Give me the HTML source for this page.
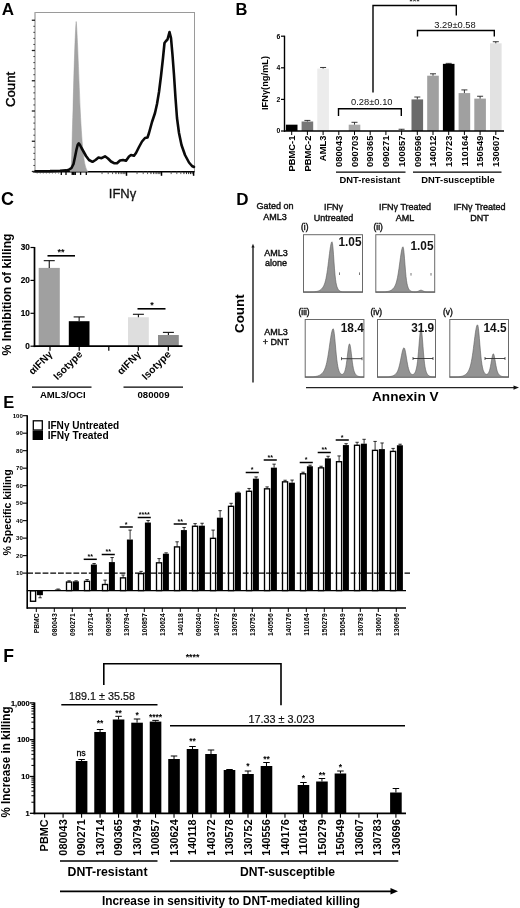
<!DOCTYPE html>
<html lang="en"><head><meta charset="utf-8"><title>Figure</title>
<style>html,body{margin:0;padding:0;background:#fff}svg{display:block}text{font-family:"Liberation Sans",sans-serif}</style>
</head><body>
<svg width="520" height="908" viewBox="0 0 520 908">
<rect width="520" height="908" fill="#fff"/>
<text x="1.70" y="14.80" font-size="17" text-anchor="start" fill="#000" font-weight="700" >A</text>
<rect x="35" y="12.5" width="159.5" height="159.0" fill="none" stroke="#9a9a9a" stroke-width="1"/>
<line x1="35.00" y1="12.50" x2="35.00" y2="171.50" stroke="#b5b5b5" stroke-width="1" />
<line x1="33.00" y1="171.70" x2="194.50" y2="171.70" stroke="#000" stroke-width="1.6" />
<line x1="31.80" y1="171.50" x2="35.00" y2="171.50" stroke="#222" stroke-width="1.3" />
<line x1="33.30" y1="165.45" x2="35.00" y2="165.45" stroke="#222" stroke-width="0.8" />
<line x1="33.30" y1="159.40" x2="35.00" y2="159.40" stroke="#222" stroke-width="0.8" />
<line x1="33.30" y1="153.35" x2="35.00" y2="153.35" stroke="#222" stroke-width="0.8" />
<line x1="33.30" y1="147.30" x2="35.00" y2="147.30" stroke="#222" stroke-width="0.8" />
<line x1="31.80" y1="141.25" x2="35.00" y2="141.25" stroke="#222" stroke-width="1.3" />
<line x1="33.30" y1="135.20" x2="35.00" y2="135.20" stroke="#222" stroke-width="0.8" />
<line x1="33.30" y1="129.15" x2="35.00" y2="129.15" stroke="#222" stroke-width="0.8" />
<line x1="33.30" y1="123.10" x2="35.00" y2="123.10" stroke="#222" stroke-width="0.8" />
<line x1="33.30" y1="117.05" x2="35.00" y2="117.05" stroke="#222" stroke-width="0.8" />
<line x1="31.80" y1="111.00" x2="35.00" y2="111.00" stroke="#222" stroke-width="1.3" />
<line x1="33.30" y1="104.95" x2="35.00" y2="104.95" stroke="#222" stroke-width="0.8" />
<line x1="33.30" y1="98.90" x2="35.00" y2="98.90" stroke="#222" stroke-width="0.8" />
<line x1="33.30" y1="92.85" x2="35.00" y2="92.85" stroke="#222" stroke-width="0.8" />
<line x1="33.30" y1="86.80" x2="35.00" y2="86.80" stroke="#222" stroke-width="0.8" />
<line x1="31.80" y1="80.75" x2="35.00" y2="80.75" stroke="#222" stroke-width="1.3" />
<line x1="33.30" y1="74.70" x2="35.00" y2="74.70" stroke="#222" stroke-width="0.8" />
<line x1="33.30" y1="68.65" x2="35.00" y2="68.65" stroke="#222" stroke-width="0.8" />
<line x1="33.30" y1="62.60" x2="35.00" y2="62.60" stroke="#222" stroke-width="0.8" />
<line x1="33.30" y1="56.55" x2="35.00" y2="56.55" stroke="#222" stroke-width="0.8" />
<line x1="31.80" y1="50.50" x2="35.00" y2="50.50" stroke="#222" stroke-width="1.3" />
<line x1="33.30" y1="44.45" x2="35.00" y2="44.45" stroke="#222" stroke-width="0.8" />
<line x1="33.30" y1="38.40" x2="35.00" y2="38.40" stroke="#222" stroke-width="0.8" />
<line x1="33.30" y1="32.35" x2="35.00" y2="32.35" stroke="#222" stroke-width="0.8" />
<line x1="33.30" y1="26.30" x2="35.00" y2="26.30" stroke="#222" stroke-width="0.8" />
<line x1="31.80" y1="20.25" x2="35.00" y2="20.25" stroke="#222" stroke-width="1.3" />
<line x1="37.20" y1="171.50" x2="37.20" y2="173.70" stroke="#666" stroke-width="0.7" />
<line x1="40.25" y1="171.50" x2="40.25" y2="173.70" stroke="#666" stroke-width="0.7" />
<line x1="43.30" y1="171.50" x2="43.30" y2="173.70" stroke="#666" stroke-width="0.7" />
<line x1="46.35" y1="171.50" x2="46.35" y2="173.70" stroke="#666" stroke-width="0.7" />
<line x1="49.40" y1="171.50" x2="49.40" y2="173.70" stroke="#666" stroke-width="0.7" />
<line x1="52.45" y1="171.50" x2="52.45" y2="173.70" stroke="#666" stroke-width="0.7" />
<line x1="55.50" y1="171.50" x2="55.50" y2="173.70" stroke="#666" stroke-width="0.7" />
<line x1="58.55" y1="171.50" x2="58.55" y2="173.70" stroke="#666" stroke-width="0.7" />
<line x1="61.30" y1="171.50" x2="61.30" y2="174.90" stroke="#000" stroke-width="1.3" />
<line x1="66.00" y1="171.50" x2="66.00" y2="174.90" stroke="#000" stroke-width="1.3" />
<line x1="72.30" y1="171.50" x2="72.30" y2="174.90" stroke="#000" stroke-width="1.5" />
<line x1="73.80" y1="171.50" x2="73.80" y2="174.90" stroke="#000" stroke-width="1.5" />
<line x1="75.20" y1="171.50" x2="75.20" y2="174.90" stroke="#000" stroke-width="1.5" />
<line x1="80.60" y1="171.50" x2="80.60" y2="174.90" stroke="#000" stroke-width="1.3" />
<line x1="86.30" y1="171.50" x2="86.30" y2="174.90" stroke="#000" stroke-width="1.3" />
<line x1="126.50" y1="171.50" x2="126.50" y2="175.80" stroke="#000" stroke-width="1.5" />
<line x1="161.50" y1="171.50" x2="161.50" y2="175.80" stroke="#000" stroke-width="1.5" />
<line x1="193.60" y1="171.50" x2="193.60" y2="175.80" stroke="#000" stroke-width="1.5" />
<line x1="102.04" y1="171.50" x2="102.04" y2="174.10" stroke="#444" stroke-width="0.9" />
<line x1="108.20" y1="171.50" x2="108.20" y2="174.10" stroke="#444" stroke-width="0.9" />
<line x1="112.57" y1="171.50" x2="112.57" y2="174.10" stroke="#444" stroke-width="0.9" />
<line x1="115.96" y1="171.50" x2="115.96" y2="174.10" stroke="#111" stroke-width="0.9" />
<line x1="118.74" y1="171.50" x2="118.74" y2="174.10" stroke="#111" stroke-width="0.9" />
<line x1="121.08" y1="171.50" x2="121.08" y2="174.10" stroke="#111" stroke-width="0.9" />
<line x1="123.11" y1="171.50" x2="123.11" y2="174.10" stroke="#111" stroke-width="0.9" />
<line x1="124.90" y1="171.50" x2="124.90" y2="174.10" stroke="#111" stroke-width="0.9" />
<line x1="137.04" y1="171.50" x2="137.04" y2="174.10" stroke="#444" stroke-width="0.9" />
<line x1="143.20" y1="171.50" x2="143.20" y2="174.10" stroke="#444" stroke-width="0.9" />
<line x1="147.57" y1="171.50" x2="147.57" y2="174.10" stroke="#444" stroke-width="0.9" />
<line x1="150.96" y1="171.50" x2="150.96" y2="174.10" stroke="#111" stroke-width="0.9" />
<line x1="153.74" y1="171.50" x2="153.74" y2="174.10" stroke="#111" stroke-width="0.9" />
<line x1="156.08" y1="171.50" x2="156.08" y2="174.10" stroke="#111" stroke-width="0.9" />
<line x1="158.11" y1="171.50" x2="158.11" y2="174.10" stroke="#111" stroke-width="0.9" />
<line x1="159.90" y1="171.50" x2="159.90" y2="174.10" stroke="#111" stroke-width="0.9" />
<line x1="171.16" y1="171.50" x2="171.16" y2="174.10" stroke="#444" stroke-width="0.9" />
<line x1="176.82" y1="171.50" x2="176.82" y2="174.10" stroke="#444" stroke-width="0.9" />
<line x1="180.83" y1="171.50" x2="180.83" y2="174.10" stroke="#444" stroke-width="0.9" />
<line x1="183.94" y1="171.50" x2="183.94" y2="174.10" stroke="#111" stroke-width="0.9" />
<line x1="186.48" y1="171.50" x2="186.48" y2="174.10" stroke="#111" stroke-width="0.9" />
<line x1="188.63" y1="171.50" x2="188.63" y2="174.10" stroke="#111" stroke-width="0.9" />
<line x1="190.49" y1="171.50" x2="190.49" y2="174.10" stroke="#111" stroke-width="0.9" />
<line x1="192.13" y1="171.50" x2="192.13" y2="174.10" stroke="#111" stroke-width="0.9" />
<path d="M70,171.5 C72,171 71.6,150 73,110 C74,70 75.2,30 76.2,21.5 C77.2,30 78.6,70 80.2,110 C82.3,150 84,168 88,171.5 Z" fill="#a3a3a3" stroke="#9a9a9a" stroke-width="0.5" />
<path d="M35.5,171.2 L50,171.1 L60,170.8 L66,170.4 L69,169.7 L71.5,168 L73.5,164 L75,157 L76.4,150 L77.7,144.8 L78.8,143.4 L80,145 L81.5,148 L83.5,151.5 L86,156 L89,160 L92.5,161.8 L95.5,160 L98.5,157.5 L101.5,158.2 L105,156.3 L108,158.5 L111,161.5 L114,163.2 L117,163.3 L120,160.5 L123,160 L126,160.8 L129,156.5 L131,155 L134,155.8 L136,153 L139,147 L142,141.5 L145,138 L147.5,137.5 L149,133 L152,122 L155,113 L157,104 L159,92 L161,76 L163,58 L164.5,43 L166,41 L167.5,39.5 L169.5,32 L171,38 L172.5,55 L174,75 L175.5,98 L177,118 L179,133 L181.5,145 L185,155 L189,162.5 L192,166 L194,167" fill="none" stroke="#0a0a0a" stroke-width="2.6" stroke-linejoin="round" stroke-linecap="round"/>
<text x="14.60" y="89.40" font-size="13" text-anchor="middle" fill="#000" transform="rotate(-90 14.60 89.40)" textLength="35" lengthAdjust="spacingAndGlyphs" stroke="#000" stroke-width="0.4">Count</text>
<text x="122.50" y="197.60" font-size="13" text-anchor="middle" fill="#111" stroke="#111" stroke-width="0.3">IFNγ</text>
<text x="235.50" y="14.70" font-size="16.5" text-anchor="start" fill="#000" font-weight="700" >B</text>
<rect x="285.90" y="124.68" width="11.60" height="6.32" fill="#000"/>
<line x1="291.70" y1="131.00" x2="291.70" y2="135.00" stroke="#000" stroke-width="1" />
<text x="295.00" y="135.60" font-size="9.4" text-anchor="end" fill="#000" font-weight="700" transform="rotate(-90 295.00 135.60)" >PBMC-1</text>
<rect x="301.60" y="121.52" width="11.60" height="9.48" fill="#777"/>
<line x1="307.40" y1="121.52" x2="307.40" y2="120.41" stroke="#222" stroke-width="0.9" />
<line x1="304.40" y1="120.41" x2="310.40" y2="120.41" stroke="#222" stroke-width="0.9" />
<line x1="307.40" y1="131.00" x2="307.40" y2="135.00" stroke="#000" stroke-width="1" />
<text x="310.70" y="135.60" font-size="9.4" text-anchor="end" fill="#000" font-weight="700" transform="rotate(-90 310.70 135.60)" >PBMC-2</text>
<rect x="317.30" y="68.59" width="11.60" height="62.41" fill="#ececec"/>
<line x1="323.10" y1="68.59" x2="323.10" y2="67.48" stroke="#222" stroke-width="0.9" />
<line x1="320.10" y1="67.48" x2="326.10" y2="67.48" stroke="#222" stroke-width="0.9" />
<line x1="323.10" y1="131.00" x2="323.10" y2="135.00" stroke="#000" stroke-width="1" />
<text x="326.40" y="135.60" font-size="9.4" text-anchor="end" fill="#000" font-weight="700" transform="rotate(-90 326.40 135.60)" >AML3</text>
<line x1="338.80" y1="131.00" x2="338.80" y2="135.00" stroke="#000" stroke-width="1" />
<text x="342.10" y="135.60" font-size="9.4" text-anchor="end" fill="#000" font-weight="700" transform="rotate(-90 342.10 135.60)" >080043</text>
<rect x="348.70" y="124.68" width="11.60" height="6.32" fill="#a8a8a8"/>
<line x1="354.50" y1="124.68" x2="354.50" y2="122.31" stroke="#222" stroke-width="0.9" />
<line x1="351.50" y1="122.31" x2="357.50" y2="122.31" stroke="#222" stroke-width="0.9" />
<line x1="354.50" y1="131.00" x2="354.50" y2="135.00" stroke="#000" stroke-width="1" />
<text x="357.80" y="135.60" font-size="9.4" text-anchor="end" fill="#000" font-weight="700" transform="rotate(-90 357.80 135.60)" >090703</text>
<line x1="370.20" y1="131.00" x2="370.20" y2="135.00" stroke="#000" stroke-width="1" />
<text x="373.50" y="135.60" font-size="9.4" text-anchor="end" fill="#000" font-weight="700" transform="rotate(-90 373.50 135.60)" >090365</text>
<line x1="385.90" y1="131.00" x2="385.90" y2="135.00" stroke="#000" stroke-width="1" />
<text x="389.20" y="135.60" font-size="9.4" text-anchor="end" fill="#000" font-weight="700" transform="rotate(-90 389.20 135.60)" >090271</text>
<line x1="401.60" y1="130.53" x2="401.60" y2="129.26" stroke="#222" stroke-width="0.9" />
<line x1="398.60" y1="129.26" x2="404.60" y2="129.26" stroke="#222" stroke-width="0.9" />
<line x1="401.60" y1="131.00" x2="401.60" y2="135.00" stroke="#000" stroke-width="1" />
<text x="404.90" y="135.60" font-size="9.4" text-anchor="end" fill="#000" font-weight="700" transform="rotate(-90 404.90 135.60)" >100857</text>
<rect x="411.50" y="99.40" width="11.60" height="31.60" fill="#6b6b6b"/>
<line x1="417.30" y1="99.40" x2="417.30" y2="97.03" stroke="#222" stroke-width="0.9" />
<line x1="414.30" y1="97.03" x2="420.30" y2="97.03" stroke="#222" stroke-width="0.9" />
<line x1="417.30" y1="131.00" x2="417.30" y2="135.00" stroke="#000" stroke-width="1" />
<text x="420.60" y="135.60" font-size="9.4" text-anchor="end" fill="#000" font-weight="700" transform="rotate(-90 420.60 135.60)" >090596</text>
<rect x="427.20" y="75.70" width="11.60" height="55.30" fill="#a0a0a0"/>
<line x1="433.00" y1="75.70" x2="433.00" y2="73.80" stroke="#222" stroke-width="0.9" />
<line x1="430.00" y1="73.80" x2="436.00" y2="73.80" stroke="#222" stroke-width="0.9" />
<line x1="433.00" y1="131.00" x2="433.00" y2="135.00" stroke="#000" stroke-width="1" />
<text x="436.30" y="135.60" font-size="9.4" text-anchor="end" fill="#000" font-weight="700" transform="rotate(-90 436.30 135.60)" >140012</text>
<rect x="442.90" y="63.85" width="11.60" height="67.15" fill="#000"/>
<line x1="448.70" y1="63.85" x2="448.70" y2="63.38" stroke="#222" stroke-width="0.9" />
<line x1="445.70" y1="63.38" x2="451.70" y2="63.38" stroke="#222" stroke-width="0.9" />
<line x1="448.70" y1="131.00" x2="448.70" y2="135.00" stroke="#000" stroke-width="1" />
<text x="452.00" y="135.60" font-size="9.4" text-anchor="end" fill="#000" font-weight="700" transform="rotate(-90 452.00 135.60)" >130723</text>
<rect x="458.60" y="93.08" width="11.60" height="37.92" fill="#a0a0a0"/>
<line x1="464.40" y1="93.08" x2="464.40" y2="89.92" stroke="#222" stroke-width="0.9" />
<line x1="461.40" y1="89.92" x2="467.40" y2="89.92" stroke="#222" stroke-width="0.9" />
<line x1="464.40" y1="131.00" x2="464.40" y2="135.00" stroke="#000" stroke-width="1" />
<text x="467.70" y="135.60" font-size="9.4" text-anchor="end" fill="#000" font-weight="700" transform="rotate(-90 467.70 135.60)" >110164</text>
<rect x="474.30" y="98.61" width="11.60" height="32.39" fill="#a0a0a0"/>
<line x1="480.10" y1="98.61" x2="480.10" y2="96.24" stroke="#222" stroke-width="0.9" />
<line x1="477.10" y1="96.24" x2="483.10" y2="96.24" stroke="#222" stroke-width="0.9" />
<line x1="480.10" y1="131.00" x2="480.10" y2="135.00" stroke="#000" stroke-width="1" />
<text x="483.40" y="135.60" font-size="9.4" text-anchor="end" fill="#000" font-weight="700" transform="rotate(-90 483.40 135.60)" >150549</text>
<rect x="490.00" y="43.31" width="11.60" height="87.69" fill="#e2e2e2"/>
<line x1="495.80" y1="43.31" x2="495.80" y2="41.73" stroke="#222" stroke-width="0.9" />
<line x1="492.80" y1="41.73" x2="498.80" y2="41.73" stroke="#222" stroke-width="0.9" />
<line x1="495.80" y1="131.00" x2="495.80" y2="135.00" stroke="#000" stroke-width="1" />
<text x="499.10" y="135.60" font-size="9.4" text-anchor="end" fill="#000" font-weight="700" transform="rotate(-90 499.10 135.60)" >130607</text>
<line x1="284.50" y1="35.70" x2="284.50" y2="131.70" stroke="#000" stroke-width="1.4" />
<line x1="284.00" y1="131.00" x2="504.00" y2="131.00" stroke="#000" stroke-width="1.6" />
<line x1="281.00" y1="131.00" x2="284.50" y2="131.00" stroke="#000" stroke-width="1.2" />
<text x="280.30" y="133.40" font-size="6.8" text-anchor="end" fill="#000" font-weight="700" >0</text>
<line x1="281.00" y1="99.40" x2="284.50" y2="99.40" stroke="#000" stroke-width="1.2" />
<text x="280.30" y="101.80" font-size="6.8" text-anchor="end" fill="#000" font-weight="700" >2</text>
<line x1="281.00" y1="67.80" x2="284.50" y2="67.80" stroke="#000" stroke-width="1.2" />
<text x="280.30" y="70.20" font-size="6.8" text-anchor="end" fill="#000" font-weight="700" >4</text>
<line x1="281.00" y1="36.20" x2="284.50" y2="36.20" stroke="#000" stroke-width="1.2" />
<text x="280.30" y="38.60" font-size="6.8" text-anchor="end" fill="#000" font-weight="700" >6</text>
<text x="267.80" y="83.00" font-size="9.6" text-anchor="middle" fill="#000" font-weight="700" transform="rotate(-90 267.80 83.00)" textLength="54" lengthAdjust="spacingAndGlyphs" >IFNγ(ng/mL)</text>
<path d="M338.5,116 V108.7 H401.3 V116" fill="none" stroke="#000" stroke-width="1.4" />
<text x="371.80" y="105.20" font-size="9.6" text-anchor="middle" fill="#111" textLength="41.5" lengthAdjust="spacingAndGlyphs" >0.28±0.10</text>
<path d="M417.5,36.5 V30.5 H494.3 V36.5" fill="none" stroke="#000" stroke-width="1.4" />
<text x="455.00" y="28.20" font-size="9.6" text-anchor="middle" fill="#111" textLength="41.5" lengthAdjust="spacingAndGlyphs" >3.29±0.58</text>
<path d="M373,92.5 V5.5 H456.3 V15.5" fill="none" stroke="#000" stroke-width="1.4" />
<text x="414.50" y="4.20" font-size="9" text-anchor="middle" fill="#000" font-weight="700" >***</text>
<line x1="336.00" y1="172.20" x2="405.50" y2="172.20" stroke="#000" stroke-width="1.2" />
<line x1="413.00" y1="172.20" x2="501.50" y2="172.20" stroke="#000" stroke-width="1.2" />
<text x="370.00" y="182.50" font-size="9.4" text-anchor="middle" fill="#000" font-weight="700" >DNT-resistant</text>
<text x="458.00" y="182.50" font-size="9.4" text-anchor="middle" fill="#000" font-weight="700" >DNT-susceptible</text>
<text x="1.00" y="205.40" font-size="18" text-anchor="start" fill="#000" font-weight="700" >C</text>
<rect x="38.70" y="267.90" width="21.10" height="78.30" fill="#a0a0a0"/>
<line x1="49.25" y1="267.90" x2="49.25" y2="260.66" stroke="#111" stroke-width="1.1" />
<line x1="43.75" y1="260.66" x2="54.75" y2="260.66" stroke="#111" stroke-width="1.1" />
<rect x="68.80" y="321.20" width="20.70" height="25.00" fill="#000"/>
<line x1="79.15" y1="321.20" x2="79.15" y2="316.92" stroke="#111" stroke-width="1.1" />
<line x1="73.65" y1="316.92" x2="84.65" y2="316.92" stroke="#111" stroke-width="1.1" />
<rect x="128.00" y="317.25" width="20.80" height="28.95" fill="#dedede"/>
<line x1="138.40" y1="317.25" x2="138.40" y2="314.29" stroke="#111" stroke-width="1.1" />
<line x1="132.90" y1="314.29" x2="143.90" y2="314.29" stroke="#111" stroke-width="1.1" />
<rect x="158.00" y="335.01" width="20.80" height="11.19" fill="#8e8e8e"/>
<line x1="168.40" y1="335.01" x2="168.40" y2="332.38" stroke="#111" stroke-width="1.1" />
<line x1="162.90" y1="332.38" x2="173.90" y2="332.38" stroke="#111" stroke-width="1.1" />
<line x1="34.50" y1="247.00" x2="34.50" y2="347.10" stroke="#000" stroke-width="1.7" />
<line x1="33.70" y1="346.20" x2="182.50" y2="346.20" stroke="#000" stroke-width="1.8" />
<line x1="30.50" y1="346.20" x2="34.50" y2="346.20" stroke="#000" stroke-width="1.2" />
<text x="29.90" y="349.10" font-size="8.2" text-anchor="end" fill="#000" font-weight="700" stroke="#000" stroke-width="0.15">0</text>
<line x1="30.50" y1="313.30" x2="34.50" y2="313.30" stroke="#000" stroke-width="1.2" />
<text x="29.90" y="316.20" font-size="8.2" text-anchor="end" fill="#000" font-weight="700" stroke="#000" stroke-width="0.15">10</text>
<line x1="30.50" y1="280.40" x2="34.50" y2="280.40" stroke="#000" stroke-width="1.2" />
<text x="29.90" y="283.30" font-size="8.2" text-anchor="end" fill="#000" font-weight="700" stroke="#000" stroke-width="0.15">20</text>
<line x1="30.50" y1="247.50" x2="34.50" y2="247.50" stroke="#000" stroke-width="1.2" />
<text x="29.90" y="250.40" font-size="8.2" text-anchor="end" fill="#000" font-weight="700" stroke="#000" stroke-width="0.15">30</text>
<line x1="50.00" y1="346.20" x2="50.00" y2="350.70" stroke="#000" stroke-width="1.2" />
<line x1="79.20" y1="346.20" x2="79.20" y2="350.70" stroke="#000" stroke-width="1.2" />
<line x1="108.80" y1="346.20" x2="108.80" y2="350.70" stroke="#000" stroke-width="1.2" />
<line x1="138.30" y1="346.20" x2="138.30" y2="350.70" stroke="#000" stroke-width="1.2" />
<line x1="168.30" y1="346.20" x2="168.30" y2="350.70" stroke="#000" stroke-width="1.2" />
<line x1="47.50" y1="255.80" x2="75.00" y2="255.80" stroke="#000" stroke-width="1.6" />
<text x="61.00" y="255.00" font-size="9" text-anchor="middle" fill="#000" font-weight="700" >**</text>
<line x1="137.50" y1="308.80" x2="165.50" y2="308.80" stroke="#000" stroke-width="1.6" />
<text x="152.00" y="308.00" font-size="9" text-anchor="middle" fill="#000" font-weight="700" >*</text>
<text x="10.80" y="294.50" font-size="12" text-anchor="middle" fill="#000" font-weight="700" transform="rotate(-90 10.80 294.50)" textLength="122" lengthAdjust="spacingAndGlyphs" >% Inhibition of killing</text>
<text x="53.00" y="355.00" font-size="10.3" text-anchor="end" fill="#000" font-weight="700" transform="rotate(-45 53.00 355.00)" >αIFNγ</text>
<text x="83.00" y="355.00" font-size="10.3" text-anchor="end" fill="#000" font-weight="700" transform="rotate(-45 83.00 355.00)" >Isotype</text>
<text x="141.50" y="355.00" font-size="10.3" text-anchor="end" fill="#000" font-weight="700" transform="rotate(-45 141.50 355.00)" >αIFNγ</text>
<text x="171.50" y="355.00" font-size="10.3" text-anchor="end" fill="#000" font-weight="700" transform="rotate(-45 171.50 355.00)" >Isotype</text>
<line x1="32.00" y1="387.20" x2="91.50" y2="387.20" stroke="#000" stroke-width="1.3" />
<line x1="123.50" y1="387.20" x2="183.00" y2="387.20" stroke="#000" stroke-width="1.3" />
<text x="62.80" y="397.50" font-size="9.6" text-anchor="middle" fill="#000" font-weight="700" >AML3/OCI</text>
<text x="153.50" y="397.50" font-size="9.6" text-anchor="middle" fill="#000" font-weight="700" >080009</text>
<text x="236.30" y="204.90" font-size="17" text-anchor="start" fill="#000" font-weight="700" >D</text>
<text x="275.00" y="209.30" font-size="9" text-anchor="middle" fill="#111" stroke="#111" stroke-width="0.4">Gated on</text>
<text x="275.00" y="219.60" font-size="9" text-anchor="middle" fill="#111" stroke="#111" stroke-width="0.4">AML3</text>
<text x="333.50" y="210.00" font-size="9" text-anchor="middle" fill="#111" stroke="#111" stroke-width="0.4">IFNγ</text>
<text x="333.50" y="220.50" font-size="9" text-anchor="middle" fill="#111" stroke="#111" stroke-width="0.4">Untreated</text>
<text x="405.00" y="210.00" font-size="9" text-anchor="middle" fill="#111" stroke="#111" stroke-width="0.4">IFNγ Treated</text>
<text x="405.00" y="220.50" font-size="9" text-anchor="middle" fill="#111" stroke="#111" stroke-width="0.4">AML</text>
<text x="479.50" y="210.00" font-size="9" text-anchor="middle" fill="#111" stroke="#111" stroke-width="0.4">IFNγ Treated</text>
<text x="479.50" y="220.50" font-size="9" text-anchor="middle" fill="#111" stroke="#111" stroke-width="0.4">DNT</text>
<text x="276.00" y="256.00" font-size="9" text-anchor="middle" fill="#111" stroke="#111" stroke-width="0.4">AML3</text>
<text x="276.00" y="266.30" font-size="9" text-anchor="middle" fill="#111" stroke="#111" stroke-width="0.4">alone</text>
<text x="276.00" y="334.50" font-size="9" text-anchor="middle" fill="#111" stroke="#111" stroke-width="0.4">AML3</text>
<text x="276.00" y="345.00" font-size="9" text-anchor="middle" fill="#111" stroke="#111" stroke-width="0.4">+ DNT</text>
<text x="301.00" y="230.30" font-size="8.4" text-anchor="start" fill="#111" stroke="#111" stroke-width="0.4">(i)</text>
<text x="373.50" y="230.30" font-size="8.4" text-anchor="start" fill="#111" stroke="#111" stroke-width="0.4">(ii)</text>
<text x="298.50" y="314.50" font-size="8.4" text-anchor="start" fill="#111" stroke="#111" stroke-width="0.4">(iii)</text>
<text x="370.50" y="314.50" font-size="8.4" text-anchor="start" fill="#111" stroke="#111" stroke-width="0.4">(iv)</text>
<text x="443.00" y="314.50" font-size="8.4" text-anchor="start" fill="#111" stroke="#111" stroke-width="0.4">(v)</text>
<line x1="253.00" y1="382.50" x2="253.00" y2="246.50" stroke="#1a1a1a" stroke-width="1.4" />
<path d="M253,243.8 L251.4,247.6 L254.6,247.6 Z" fill="#1a1a1a" stroke="none" stroke-width="1" />
<line x1="306.00" y1="387.60" x2="514.00" y2="387.60" stroke="#222" stroke-width="1.2" />
<path d="M519,387.6 L513.5,385.5 L513.5,389.7 Z" fill="#111" stroke="none" stroke-width="1" />
<text x="243.60" y="313.70" font-size="13.6" text-anchor="middle" fill="#000" font-weight="700" transform="rotate(-90 243.60 313.70)" textLength="38.7" lengthAdjust="spacingAndGlyphs" >Count</text>
<text x="405.30" y="401.00" font-size="13.5" text-anchor="middle" fill="#000" font-weight="700" textLength="66.5" lengthAdjust="spacingAndGlyphs" >Annexin V</text>
<rect x="303.5" y="234.7" width="59.0" height="57.60000000000002" fill="#fff" stroke="#6a6a6a" stroke-width="1"/>
<path d="M304.0,291.8 L303.50,291.80 L304.00,291.80 L304.50,291.80 L305.00,291.80 L305.50,291.80 L306.00,291.80 L306.50,291.80 L307.00,291.80 L307.50,291.80 L308.00,291.80 L308.50,291.80 L309.00,291.80 L309.50,291.79 L310.00,291.79 L310.50,291.79 L311.00,291.78 L311.50,291.78 L312.00,291.77 L312.50,291.76 L313.00,291.74 L313.50,291.72 L314.00,291.70 L314.50,291.67 L315.00,291.62 L315.50,291.57 L316.00,291.51 L316.50,291.43 L317.00,291.33 L317.50,291.21 L318.00,291.06 L318.50,290.89 L319.00,290.68 L319.50,290.44 L320.00,290.15 L320.50,289.82 L321.00,289.43 L321.50,288.97 L322.00,288.45 L322.50,287.83 L323.00,287.10 L323.50,286.23 L324.00,285.20 L324.50,283.95 L325.00,282.44 L325.50,280.62 L326.00,278.44 L326.50,275.86 L327.00,272.86 L327.50,269.45 L328.00,265.68 L328.50,261.66 L329.00,257.51 L329.50,253.44 L330.00,249.67 L330.50,246.42 L331.00,243.92 L331.50,242.34 L332.00,241.80 L332.50,243.46 L333.00,248.06 L333.50,254.62 L334.00,261.90 L334.50,268.81 L335.00,274.68 L335.50,279.26 L336.00,282.64 L336.50,285.06 L337.00,286.81 L337.50,288.09 L338.00,289.06 L338.50,289.80 L339.00,290.36 L339.50,290.79 L340.00,291.10 L340.50,291.33 L341.00,291.49 L341.50,291.60 L342.00,291.68 L342.50,291.72 L343.00,291.75 L343.50,291.77 L344.00,291.78 L344.50,291.79 L345.00,291.80 L345.50,291.80 L346.00,291.80 L346.50,291.80 L347.00,291.80 L347.50,291.80 L348.00,291.80 L348.50,291.80 L349.00,291.80 L349.50,291.80 L350.00,291.80 L350.50,291.80 L351.00,291.80 L351.50,291.80 L352.00,291.80 L352.50,291.80 L353.00,291.80 L353.50,291.80 L354.00,291.80 L354.50,291.80 L355.00,291.80 L355.50,291.80 L356.00,291.80 L356.50,291.80 L357.00,291.80 L357.50,291.80 L358.00,291.80 L358.50,291.80 L359.00,291.80 L359.50,291.80 L360.00,291.80 L360.50,291.80 L361.00,291.80 L361.50,291.80 L362.00,291.80 L362.50,291.80 L362.0,291.8 Z" fill="#939393" stroke="#5a5a5a" stroke-width="0.6" />
<line x1="339.50" y1="272.40" x2="339.50" y2="275.00" stroke="#555" stroke-width="0.8" />
<line x1="359.50" y1="272.40" x2="359.50" y2="275.00" stroke="#555" stroke-width="0.8" />
<text x="361.50" y="246.40" font-size="12.2" text-anchor="end" fill="#111" font-weight="700" textLength="23" lengthAdjust="spacingAndGlyphs" >1.05</text>
<rect x="375.8" y="234.7" width="58.89999999999998" height="57.60000000000002" fill="#fff" stroke="#6a6a6a" stroke-width="1"/>
<path d="M376.3,291.8 L375.80,291.80 L376.30,291.80 L376.81,291.80 L377.31,291.80 L377.81,291.80 L378.32,291.80 L378.82,291.80 L379.32,291.80 L379.83,291.80 L380.33,291.80 L380.83,291.79 L381.34,291.79 L381.84,291.79 L382.34,291.78 L382.85,291.77 L383.35,291.76 L383.85,291.75 L384.36,291.74 L384.86,291.71 L385.36,291.69 L385.87,291.65 L386.37,291.61 L386.88,291.55 L387.38,291.48 L387.88,291.40 L388.39,291.30 L388.89,291.17 L389.39,291.02 L389.90,290.84 L390.40,290.62 L390.90,290.37 L391.41,290.08 L391.91,289.73 L392.41,289.33 L392.92,288.87 L393.42,288.32 L393.92,287.68 L394.43,286.91 L394.93,286.00 L395.43,284.90 L395.94,283.56 L396.44,281.95 L396.94,280.02 L397.45,277.72 L397.95,275.04 L398.45,271.99 L398.96,268.60 L399.46,264.96 L399.96,261.21 L400.47,257.51 L400.97,254.07 L401.47,251.10 L401.98,248.79 L402.48,247.32 L402.98,246.80 L403.49,248.22 L403.99,252.35 L404.49,258.27 L405.00,264.87 L405.50,271.13 L406.01,276.44 L406.51,280.57 L407.01,283.61 L407.52,285.79 L408.02,287.36 L408.52,288.51 L409.03,289.37 L409.53,290.03 L410.03,290.53 L410.54,290.91 L411.04,291.19 L411.54,291.39 L412.05,291.53 L412.55,291.63 L413.05,291.69 L413.56,291.73 L414.06,291.76 L414.56,291.77 L415.07,291.77 L415.57,291.75 L416.07,291.72 L416.58,291.66 L417.08,291.56 L417.58,291.43 L418.09,291.25 L418.59,291.03 L419.09,290.78 L419.60,290.55 L420.10,290.35 L420.60,290.23 L421.11,290.20 L421.61,290.27 L422.11,290.43 L422.62,290.65 L423.12,290.89 L423.62,291.12 L424.13,291.33 L424.63,291.49 L425.14,291.61 L425.64,291.69 L426.14,291.74 L426.65,291.77 L427.15,291.79 L427.65,291.79 L428.16,291.80 L428.66,291.80 L429.16,291.80 L429.67,291.80 L430.17,291.80 L430.67,291.80 L431.18,291.80 L431.68,291.80 L432.18,291.80 L432.69,291.80 L433.19,291.80 L433.69,291.80 L434.20,291.80 L434.70,291.80 L434.2,291.8 Z" fill="#939393" stroke="#5a5a5a" stroke-width="0.6" />
<line x1="411.00" y1="273.00" x2="411.00" y2="275.60" stroke="#555" stroke-width="0.8" />
<line x1="431.00" y1="273.00" x2="431.00" y2="275.60" stroke="#555" stroke-width="0.8" />
<text x="433.50" y="249.90" font-size="12.2" text-anchor="end" fill="#111" font-weight="700" textLength="23" lengthAdjust="spacingAndGlyphs" >1.05</text>
<rect x="305.2" y="319.5" width="58.69999999999999" height="57.80000000000001" fill="#fff" stroke="#6a6a6a" stroke-width="1"/>
<path d="M305.7,376.8 L305.20,376.80 L305.70,376.80 L306.20,376.80 L306.71,376.80 L307.21,376.80 L307.71,376.79 L308.21,376.79 L308.71,376.79 L309.21,376.79 L309.72,376.78 L310.22,376.77 L310.72,376.77 L311.22,376.76 L311.72,376.74 L312.22,376.73 L312.73,376.71 L313.23,376.68 L313.73,376.65 L314.23,376.61 L314.73,376.56 L315.23,376.50 L315.74,376.43 L316.24,376.34 L316.74,376.24 L317.24,376.12 L317.74,375.98 L318.24,375.81 L318.75,375.62 L319.25,375.39 L319.75,375.14 L320.25,374.84 L320.75,374.51 L321.25,374.12 L321.76,373.68 L322.26,373.18 L322.76,372.60 L323.26,371.92 L323.76,371.13 L324.26,370.20 L324.77,369.11 L325.27,367.81 L325.77,366.28 L326.27,364.48 L326.77,362.39 L327.28,359.98 L327.78,357.26 L328.28,354.24 L328.78,350.97 L329.28,347.52 L329.78,344.00 L330.29,340.52 L330.79,337.25 L331.29,334.33 L331.79,331.90 L332.29,330.12 L332.79,329.07 L333.30,328.84 L333.80,330.29 L334.30,333.64 L334.80,338.38 L335.30,343.91 L335.80,349.58 L336.31,354.90 L336.81,359.53 L337.31,363.34 L337.81,366.35 L338.31,368.65 L338.81,370.38 L339.32,371.68 L339.82,372.66 L340.32,373.37 L340.82,373.88 L341.32,374.20 L341.82,374.36 L342.33,374.35 L342.83,374.17 L343.33,373.81 L343.83,373.23 L344.33,372.38 L344.84,371.17 L345.34,369.47 L345.84,367.18 L346.34,364.19 L346.84,360.53 L347.34,356.36 L347.85,352.06 L348.35,348.17 L348.85,345.27 L349.35,343.88 L349.85,344.24 L350.35,346.29 L350.86,349.66 L351.36,353.80 L351.86,358.12 L352.36,362.13 L352.86,365.56 L353.36,368.30 L353.87,370.39 L354.37,371.94 L354.87,373.10 L355.37,373.97 L355.87,374.63 L356.37,375.15 L356.88,375.56 L357.38,375.88 L357.88,376.13 L358.38,376.32 L358.88,376.46 L359.38,376.57 L359.89,376.64 L360.39,376.70 L360.89,376.73 L361.39,376.76 L361.89,376.77 L362.39,376.78 L362.90,376.79 L363.40,376.79 L363.90,376.80 L363.4,376.8 Z" fill="#939393" stroke="#5a5a5a" stroke-width="0.6" />
<line x1="341.50" y1="358.70" x2="362.00" y2="358.70" stroke="#333" stroke-width="0.9" />
<line x1="341.50" y1="357.20" x2="341.50" y2="360.20" stroke="#333" stroke-width="0.8" />
<line x1="362.00" y1="357.20" x2="362.00" y2="360.20" stroke="#333" stroke-width="0.8" />
<text x="363.80" y="332.00" font-size="12.2" text-anchor="end" fill="#111" font-weight="700" textLength="23" lengthAdjust="spacingAndGlyphs" >18.4</text>
<rect x="377.5" y="319.5" width="58.0" height="57.80000000000001" fill="#fff" stroke="#6a6a6a" stroke-width="1"/>
<path d="M378.0,376.8 L377.50,376.80 L378.00,376.80 L378.50,376.80 L379.00,376.80 L379.50,376.80 L380.00,376.80 L380.50,376.80 L381.00,376.80 L381.50,376.80 L382.00,376.80 L382.50,376.80 L383.00,376.80 L383.50,376.79 L384.00,376.79 L384.50,376.79 L385.00,376.79 L385.50,376.78 L386.00,376.77 L386.50,376.76 L387.00,376.75 L387.50,376.73 L388.00,376.71 L388.50,376.68 L389.00,376.64 L389.50,376.59 L390.00,376.53 L390.50,376.45 L391.00,376.36 L391.50,376.25 L392.00,376.11 L392.50,375.95 L393.00,375.76 L393.50,375.54 L394.00,375.28 L394.50,374.97 L395.00,374.60 L395.50,374.17 L396.00,373.65 L396.50,373.02 L397.00,372.25 L397.50,371.30 L398.00,370.15 L398.50,368.75 L399.00,367.08 L399.50,365.14 L400.00,362.93 L400.50,360.50 L401.00,357.94 L401.50,355.38 L402.00,352.96 L402.50,350.85 L403.00,349.21 L403.50,348.16 L404.00,347.80 L404.50,348.33 L405.00,349.85 L405.50,352.19 L406.00,355.05 L406.50,358.16 L407.00,361.25 L407.50,364.10 L408.00,366.58 L408.50,368.65 L409.00,370.31 L409.50,371.61 L410.00,372.60 L410.50,373.34 L411.00,373.88 L411.50,374.25 L412.00,374.48 L412.50,374.56 L413.00,374.51 L413.50,374.30 L414.00,373.93 L414.50,373.37 L415.00,372.59 L415.50,371.51 L416.00,370.03 L416.50,368.00 L417.00,365.24 L417.50,361.57 L418.00,356.89 L418.50,351.30 L419.00,345.12 L419.50,338.97 L420.00,333.68 L420.50,330.07 L421.00,328.80 L421.50,330.22 L422.00,334.21 L422.50,339.98 L423.00,346.54 L423.50,352.97 L424.00,358.62 L424.50,363.20 L425.00,366.69 L425.50,369.26 L426.00,371.14 L426.50,372.53 L427.00,373.58 L427.50,374.38 L428.00,375.01 L428.50,375.49 L429.00,375.86 L429.50,376.14 L430.00,376.35 L430.50,376.50 L431.00,376.60 L431.50,376.67 L432.00,376.72 L432.50,376.75 L433.00,376.77 L433.50,376.78 L434.00,376.79 L434.50,376.79 L435.00,376.80 L435.50,376.80 L435.0,376.8 Z" fill="#939393" stroke="#5a5a5a" stroke-width="0.6" />
<line x1="413.00" y1="358.50" x2="433.00" y2="358.50" stroke="#333" stroke-width="0.9" />
<line x1="413.00" y1="357.00" x2="413.00" y2="360.00" stroke="#333" stroke-width="0.8" />
<line x1="433.00" y1="357.00" x2="433.00" y2="360.00" stroke="#333" stroke-width="0.8" />
<text x="434.20" y="332.00" font-size="12.2" text-anchor="end" fill="#111" font-weight="700" textLength="23" lengthAdjust="spacingAndGlyphs" >31.9</text>
<rect x="449.8" y="319.5" width="58.69999999999999" height="57.80000000000001" fill="#fff" stroke="#6a6a6a" stroke-width="1"/>
<path d="M450.3,376.8 L449.80,376.80 L450.30,376.80 L450.80,376.80 L451.31,376.80 L451.81,376.80 L452.31,376.80 L452.81,376.80 L453.31,376.79 L453.81,376.79 L454.32,376.79 L454.82,376.79 L455.32,376.78 L455.82,376.77 L456.32,376.76 L456.82,376.75 L457.33,376.74 L457.83,376.72 L458.33,376.69 L458.83,376.66 L459.33,376.62 L459.83,376.57 L460.34,376.51 L460.84,376.43 L461.34,376.34 L461.84,376.23 L462.34,376.10 L462.84,375.95 L463.35,375.76 L463.85,375.54 L464.35,375.29 L464.85,374.99 L465.35,374.65 L465.85,374.26 L466.36,373.81 L466.86,373.28 L467.36,372.68 L467.86,371.97 L468.36,371.14 L468.86,370.16 L469.37,368.98 L469.87,367.59 L470.37,365.92 L470.87,363.93 L471.37,361.59 L471.88,358.87 L472.38,355.76 L472.88,352.28 L473.38,348.51 L473.88,344.52 L474.38,340.46 L474.89,336.51 L475.39,332.84 L475.89,329.67 L476.39,327.18 L476.89,325.53 L477.39,324.82 L477.90,325.52 L478.40,328.36 L478.90,332.97 L479.40,338.70 L479.90,344.86 L480.40,350.83 L480.91,356.17 L481.41,360.67 L481.91,364.27 L482.41,367.05 L482.91,369.16 L483.41,370.75 L483.92,371.94 L484.42,372.83 L484.92,373.49 L485.42,373.96 L485.92,374.24 L486.42,374.37 L486.93,374.33 L487.43,374.12 L487.93,373.71 L488.43,373.05 L488.93,372.08 L489.44,370.70 L489.94,368.85 L490.44,366.50 L490.94,363.73 L491.44,360.74 L491.94,357.87 L492.45,355.53 L492.95,354.10 L493.45,353.85 L493.95,354.82 L494.45,356.84 L494.95,359.56 L495.46,362.57 L495.96,365.48 L496.46,368.05 L496.96,370.16 L497.46,371.79 L497.96,373.01 L498.47,373.92 L498.97,374.60 L499.47,375.12 L499.97,375.51 L500.47,375.83 L500.97,376.08 L501.48,376.27 L501.98,376.42 L502.48,376.53 L502.98,376.61 L503.48,376.67 L503.98,376.71 L504.49,376.74 L504.99,376.76 L505.49,376.78 L505.99,376.79 L506.49,376.79 L506.99,376.79 L507.50,376.80 L508.00,376.80 L508.50,376.80 L508.0,376.8 Z" fill="#939393" stroke="#5a5a5a" stroke-width="0.6" />
<line x1="485.00" y1="358.50" x2="505.00" y2="358.50" stroke="#333" stroke-width="0.9" />
<line x1="485.00" y1="357.00" x2="485.00" y2="360.00" stroke="#333" stroke-width="0.8" />
<line x1="505.00" y1="357.00" x2="505.00" y2="360.00" stroke="#333" stroke-width="0.8" />
<text x="506.50" y="332.00" font-size="12.2" text-anchor="end" fill="#111" font-weight="700" textLength="23" lengthAdjust="spacingAndGlyphs" >14.5</text>
<text x="3.30" y="407.90" font-size="16.5" text-anchor="start" fill="#000" font-weight="700" >E</text>
<rect x="30.50" y="590.80" width="5.10" height="10.47" fill="#fff" stroke="#000" stroke-width="1.35"/>
<rect x="36.90" y="590.60" width="6.00" height="4.55" fill="#000"/>
<line x1="40.10" y1="595.15" x2="40.10" y2="597.77" stroke="#000" stroke-width="0.8" />
<line x1="38.40" y1="597.77" x2="41.80" y2="597.77" stroke="#000" stroke-width="0.8" />
<line x1="36.30" y1="608.00" x2="36.30" y2="612.00" stroke="#000" stroke-width="1.0" />
<text x="38.70" y="613.30" font-size="6.8" text-anchor="end" fill="#000" font-weight="700" transform="rotate(-90 38.70 613.30)" >PBMC</text>
<rect x="54.90" y="589.55" width="6.00" height="1.05" fill="#000"/>
<line x1="58.10" y1="589.55" x2="58.10" y2="589.03" stroke="#000" stroke-width="0.8" />
<line x1="56.40" y1="589.03" x2="59.80" y2="589.03" stroke="#000" stroke-width="0.8" />
<line x1="54.30" y1="608.00" x2="54.30" y2="612.00" stroke="#000" stroke-width="1.0" />
<text x="56.70" y="613.30" font-size="6.8" text-anchor="end" fill="#000" font-weight="700" transform="rotate(-90 56.70 613.30)" >080043</text>
<rect x="66.50" y="582.06" width="5.10" height="8.55" fill="#fff" stroke="#000" stroke-width="1.35"/>
<line x1="69.10" y1="581.86" x2="69.10" y2="580.81" stroke="#000" stroke-width="0.8" />
<line x1="67.40" y1="580.81" x2="70.80" y2="580.81" stroke="#000" stroke-width="0.8" />
<rect x="72.90" y="581.33" width="6.00" height="9.27" fill="#000"/>
<line x1="76.10" y1="581.33" x2="76.10" y2="580.81" stroke="#000" stroke-width="0.8" />
<line x1="74.40" y1="580.81" x2="77.80" y2="580.81" stroke="#000" stroke-width="0.8" />
<line x1="72.30" y1="608.00" x2="72.30" y2="612.00" stroke="#000" stroke-width="1.0" />
<text x="74.70" y="613.30" font-size="6.8" text-anchor="end" fill="#000" font-weight="700" transform="rotate(-90 74.70 613.30)" >090271</text>
<rect x="84.50" y="581.36" width="5.10" height="9.24" fill="#fff" stroke="#000" stroke-width="1.35"/>
<line x1="87.10" y1="581.16" x2="87.10" y2="579.58" stroke="#000" stroke-width="0.8" />
<line x1="85.40" y1="579.58" x2="88.80" y2="579.58" stroke="#000" stroke-width="0.8" />
<rect x="90.90" y="564.54" width="6.00" height="26.06" fill="#000"/>
<line x1="94.10" y1="564.54" x2="94.10" y2="563.49" stroke="#000" stroke-width="0.8" />
<line x1="92.40" y1="563.49" x2="95.80" y2="563.49" stroke="#000" stroke-width="0.8" />
<line x1="90.30" y1="608.00" x2="90.30" y2="612.00" stroke="#000" stroke-width="1.0" />
<text x="92.70" y="613.30" font-size="6.8" text-anchor="end" fill="#000" font-weight="700" transform="rotate(-90 92.70 613.30)" >130714</text>
<rect x="102.50" y="584.50" width="5.10" height="6.10" fill="#fff" stroke="#000" stroke-width="1.35"/>
<line x1="105.10" y1="584.30" x2="105.10" y2="580.11" stroke="#000" stroke-width="0.8" />
<line x1="103.40" y1="580.11" x2="106.80" y2="580.11" stroke="#000" stroke-width="0.8" />
<rect x="108.90" y="562.09" width="6.00" height="28.51" fill="#000"/>
<line x1="112.10" y1="562.09" x2="112.10" y2="557.54" stroke="#000" stroke-width="0.8" />
<line x1="110.40" y1="557.54" x2="113.80" y2="557.54" stroke="#000" stroke-width="0.8" />
<line x1="108.30" y1="608.00" x2="108.30" y2="612.00" stroke="#000" stroke-width="1.0" />
<text x="110.70" y="613.30" font-size="6.8" text-anchor="end" fill="#000" font-weight="700" transform="rotate(-90 110.70 613.30)" >090365</text>
<rect x="120.50" y="577.86" width="5.10" height="12.74" fill="#fff" stroke="#000" stroke-width="1.35"/>
<line x1="123.10" y1="577.66" x2="123.10" y2="575.03" stroke="#000" stroke-width="0.8" />
<line x1="121.40" y1="575.03" x2="124.80" y2="575.03" stroke="#000" stroke-width="0.8" />
<rect x="126.90" y="539.53" width="6.00" height="51.07" fill="#000"/>
<line x1="130.10" y1="539.53" x2="130.10" y2="530.08" stroke="#000" stroke-width="0.8" />
<line x1="128.40" y1="530.08" x2="131.80" y2="530.08" stroke="#000" stroke-width="0.8" />
<line x1="126.30" y1="608.00" x2="126.30" y2="612.00" stroke="#000" stroke-width="1.0" />
<text x="128.70" y="613.30" font-size="6.8" text-anchor="end" fill="#000" font-weight="700" transform="rotate(-90 128.70 613.30)" >130794</text>
<rect x="138.50" y="573.66" width="5.10" height="16.94" fill="#fff" stroke="#000" stroke-width="1.35"/>
<line x1="141.10" y1="573.46" x2="141.10" y2="571.36" stroke="#000" stroke-width="0.8" />
<line x1="139.40" y1="571.36" x2="142.80" y2="571.36" stroke="#000" stroke-width="0.8" />
<rect x="144.90" y="522.56" width="6.00" height="68.04" fill="#000"/>
<line x1="148.10" y1="522.56" x2="148.10" y2="520.47" stroke="#000" stroke-width="0.8" />
<line x1="146.40" y1="520.47" x2="149.80" y2="520.47" stroke="#000" stroke-width="0.8" />
<line x1="144.30" y1="608.00" x2="144.30" y2="612.00" stroke="#000" stroke-width="1.0" />
<text x="146.70" y="613.30" font-size="6.8" text-anchor="end" fill="#000" font-weight="700" transform="rotate(-90 146.70 613.30)" >100857</text>
<rect x="156.50" y="562.82" width="5.10" height="27.78" fill="#fff" stroke="#000" stroke-width="1.35"/>
<line x1="159.10" y1="562.62" x2="159.10" y2="558.59" stroke="#000" stroke-width="0.8" />
<line x1="157.40" y1="558.59" x2="160.80" y2="558.59" stroke="#000" stroke-width="0.8" />
<rect x="162.90" y="553.70" width="6.00" height="36.90" fill="#000"/>
<line x1="166.10" y1="553.70" x2="166.10" y2="552.82" stroke="#000" stroke-width="0.8" />
<line x1="164.40" y1="552.82" x2="167.80" y2="552.82" stroke="#000" stroke-width="0.8" />
<line x1="162.30" y1="608.00" x2="162.30" y2="612.00" stroke="#000" stroke-width="1.0" />
<text x="164.70" y="613.30" font-size="6.8" text-anchor="end" fill="#000" font-weight="700" transform="rotate(-90 164.70 613.30)" >130624</text>
<rect x="174.50" y="546.90" width="5.10" height="43.70" fill="#fff" stroke="#000" stroke-width="1.35"/>
<line x1="177.10" y1="546.70" x2="177.10" y2="541.80" stroke="#000" stroke-width="0.8" />
<line x1="175.40" y1="541.80" x2="178.80" y2="541.80" stroke="#000" stroke-width="0.8" />
<rect x="180.90" y="530.08" width="6.00" height="60.52" fill="#000"/>
<line x1="184.10" y1="530.08" x2="184.10" y2="527.46" stroke="#000" stroke-width="0.8" />
<line x1="182.40" y1="527.46" x2="185.80" y2="527.46" stroke="#000" stroke-width="0.8" />
<line x1="180.30" y1="608.00" x2="180.30" y2="612.00" stroke="#000" stroke-width="1.0" />
<text x="182.70" y="613.30" font-size="6.8" text-anchor="end" fill="#000" font-weight="700" transform="rotate(-90 182.70 613.30)" >140118</text>
<rect x="192.50" y="526.26" width="5.10" height="64.34" fill="#fff" stroke="#000" stroke-width="1.35"/>
<line x1="195.10" y1="526.06" x2="195.10" y2="523.61" stroke="#000" stroke-width="0.8" />
<line x1="193.40" y1="523.61" x2="196.80" y2="523.61" stroke="#000" stroke-width="0.8" />
<rect x="198.90" y="525.71" width="6.00" height="64.89" fill="#000"/>
<line x1="202.10" y1="525.71" x2="202.10" y2="523.26" stroke="#000" stroke-width="0.8" />
<line x1="200.40" y1="523.26" x2="203.80" y2="523.26" stroke="#000" stroke-width="0.8" />
<line x1="198.30" y1="608.00" x2="198.30" y2="612.00" stroke="#000" stroke-width="1.0" />
<text x="200.70" y="613.30" font-size="6.8" text-anchor="end" fill="#000" font-weight="700" transform="rotate(-90 200.70 613.30)" >090240</text>
<rect x="210.50" y="538.33" width="5.10" height="52.27" fill="#fff" stroke="#000" stroke-width="1.35"/>
<line x1="213.10" y1="538.13" x2="213.10" y2="530.08" stroke="#000" stroke-width="0.8" />
<line x1="211.40" y1="530.08" x2="214.80" y2="530.08" stroke="#000" stroke-width="0.8" />
<rect x="216.90" y="517.67" width="6.00" height="72.93" fill="#000"/>
<line x1="220.10" y1="517.67" x2="220.10" y2="510.67" stroke="#000" stroke-width="0.8" />
<line x1="218.40" y1="510.67" x2="221.80" y2="510.67" stroke="#000" stroke-width="0.8" />
<line x1="216.30" y1="608.00" x2="216.30" y2="612.00" stroke="#000" stroke-width="1.0" />
<text x="218.70" y="613.30" font-size="6.8" text-anchor="end" fill="#000" font-weight="700" transform="rotate(-90 218.70 613.30)" >140372</text>
<rect x="228.50" y="506.32" width="5.10" height="84.28" fill="#fff" stroke="#000" stroke-width="1.35"/>
<line x1="231.10" y1="506.12" x2="231.10" y2="503.32" stroke="#000" stroke-width="0.8" />
<line x1="229.40" y1="503.32" x2="232.80" y2="503.32" stroke="#000" stroke-width="0.8" />
<rect x="234.90" y="492.66" width="6.00" height="97.94" fill="#000"/>
<line x1="238.10" y1="492.66" x2="238.10" y2="492.13" stroke="#000" stroke-width="0.8" />
<line x1="236.40" y1="492.13" x2="239.80" y2="492.13" stroke="#000" stroke-width="0.8" />
<line x1="234.30" y1="608.00" x2="234.30" y2="612.00" stroke="#000" stroke-width="1.0" />
<text x="236.70" y="613.30" font-size="6.8" text-anchor="end" fill="#000" font-weight="700" transform="rotate(-90 236.70 613.30)" >130578</text>
<rect x="246.50" y="491.28" width="5.10" height="99.32" fill="#fff" stroke="#000" stroke-width="1.35"/>
<line x1="249.10" y1="491.08" x2="249.10" y2="488.46" stroke="#000" stroke-width="0.8" />
<line x1="247.40" y1="488.46" x2="250.80" y2="488.46" stroke="#000" stroke-width="0.8" />
<rect x="252.90" y="478.66" width="6.00" height="111.94" fill="#000"/>
<line x1="256.10" y1="478.66" x2="256.10" y2="476.92" stroke="#000" stroke-width="0.8" />
<line x1="254.40" y1="476.92" x2="257.80" y2="476.92" stroke="#000" stroke-width="0.8" />
<line x1="252.30" y1="608.00" x2="252.30" y2="612.00" stroke="#000" stroke-width="1.0" />
<text x="254.70" y="613.30" font-size="6.8" text-anchor="end" fill="#000" font-weight="700" transform="rotate(-90 254.70 613.30)" >130752</text>
<rect x="264.50" y="488.83" width="5.10" height="101.77" fill="#fff" stroke="#000" stroke-width="1.35"/>
<line x1="267.10" y1="488.63" x2="267.10" y2="486.88" stroke="#000" stroke-width="0.8" />
<line x1="265.40" y1="486.88" x2="268.80" y2="486.88" stroke="#000" stroke-width="0.8" />
<rect x="270.90" y="467.65" width="6.00" height="122.95" fill="#000"/>
<line x1="274.10" y1="467.65" x2="274.10" y2="464.15" stroke="#000" stroke-width="0.8" />
<line x1="272.40" y1="464.15" x2="275.80" y2="464.15" stroke="#000" stroke-width="0.8" />
<line x1="270.30" y1="608.00" x2="270.30" y2="612.00" stroke="#000" stroke-width="1.0" />
<text x="272.70" y="613.30" font-size="6.8" text-anchor="end" fill="#000" font-weight="700" transform="rotate(-90 272.70 613.30)" >140556</text>
<rect x="282.50" y="481.84" width="5.10" height="108.76" fill="#fff" stroke="#000" stroke-width="1.35"/>
<line x1="285.10" y1="481.64" x2="285.10" y2="480.24" stroke="#000" stroke-width="0.8" />
<line x1="283.40" y1="480.24" x2="286.80" y2="480.24" stroke="#000" stroke-width="0.8" />
<rect x="288.90" y="482.69" width="6.00" height="107.91" fill="#000"/>
<line x1="292.10" y1="482.69" x2="292.10" y2="480.06" stroke="#000" stroke-width="0.8" />
<line x1="290.40" y1="480.06" x2="293.80" y2="480.06" stroke="#000" stroke-width="0.8" />
<line x1="288.30" y1="608.00" x2="288.30" y2="612.00" stroke="#000" stroke-width="1.0" />
<text x="290.70" y="613.30" font-size="6.8" text-anchor="end" fill="#000" font-weight="700" transform="rotate(-90 290.70 613.30)" >140176</text>
<rect x="300.50" y="473.79" width="5.10" height="116.81" fill="#fff" stroke="#000" stroke-width="1.35"/>
<line x1="303.10" y1="473.59" x2="303.10" y2="472.19" stroke="#000" stroke-width="0.8" />
<line x1="301.40" y1="472.19" x2="304.80" y2="472.19" stroke="#000" stroke-width="0.8" />
<rect x="306.90" y="466.25" width="6.00" height="124.35" fill="#000"/>
<line x1="310.10" y1="466.25" x2="310.10" y2="465.20" stroke="#000" stroke-width="0.8" />
<line x1="308.40" y1="465.20" x2="311.80" y2="465.20" stroke="#000" stroke-width="0.8" />
<line x1="306.30" y1="608.00" x2="306.30" y2="612.00" stroke="#000" stroke-width="1.0" />
<text x="308.70" y="613.30" font-size="6.8" text-anchor="end" fill="#000" font-weight="700" transform="rotate(-90 308.70 613.30)" >110164</text>
<rect x="318.50" y="467.85" width="5.10" height="122.75" fill="#fff" stroke="#000" stroke-width="1.35"/>
<line x1="321.10" y1="467.65" x2="321.10" y2="466.25" stroke="#000" stroke-width="0.8" />
<line x1="319.40" y1="466.25" x2="322.80" y2="466.25" stroke="#000" stroke-width="0.8" />
<rect x="324.90" y="458.38" width="6.00" height="132.22" fill="#000"/>
<line x1="328.10" y1="458.38" x2="328.10" y2="456.28" stroke="#000" stroke-width="0.8" />
<line x1="326.40" y1="456.28" x2="329.80" y2="456.28" stroke="#000" stroke-width="0.8" />
<line x1="324.30" y1="608.00" x2="324.30" y2="612.00" stroke="#000" stroke-width="1.0" />
<text x="326.70" y="613.30" font-size="6.8" text-anchor="end" fill="#000" font-weight="700" transform="rotate(-90 326.70 613.30)" >150279</text>
<rect x="336.50" y="461.72" width="5.10" height="128.88" fill="#fff" stroke="#000" stroke-width="1.35"/>
<line x1="339.10" y1="461.52" x2="339.10" y2="455.93" stroke="#000" stroke-width="0.8" />
<line x1="337.40" y1="455.93" x2="340.80" y2="455.93" stroke="#000" stroke-width="0.8" />
<rect x="342.90" y="445.08" width="6.00" height="145.52" fill="#000"/>
<line x1="346.10" y1="445.08" x2="346.10" y2="443.68" stroke="#000" stroke-width="0.8" />
<line x1="344.40" y1="443.68" x2="347.80" y2="443.68" stroke="#000" stroke-width="0.8" />
<line x1="342.30" y1="608.00" x2="342.30" y2="612.00" stroke="#000" stroke-width="1.0" />
<text x="344.70" y="613.30" font-size="6.8" text-anchor="end" fill="#000" font-weight="700" transform="rotate(-90 344.70 613.30)" >150549</text>
<rect x="354.50" y="445.28" width="5.10" height="145.32" fill="#fff" stroke="#000" stroke-width="1.35"/>
<line x1="357.10" y1="445.08" x2="357.10" y2="442.28" stroke="#000" stroke-width="0.8" />
<line x1="355.40" y1="442.28" x2="358.80" y2="442.28" stroke="#000" stroke-width="0.8" />
<rect x="360.90" y="443.68" width="6.00" height="146.92" fill="#000"/>
<line x1="364.10" y1="443.68" x2="364.10" y2="439.31" stroke="#000" stroke-width="0.8" />
<line x1="362.40" y1="439.31" x2="365.80" y2="439.31" stroke="#000" stroke-width="0.8" />
<line x1="360.30" y1="608.00" x2="360.30" y2="612.00" stroke="#000" stroke-width="1.0" />
<text x="362.70" y="613.30" font-size="6.8" text-anchor="end" fill="#000" font-weight="700" transform="rotate(-90 362.70 613.30)" >130783</text>
<rect x="372.50" y="450.36" width="5.10" height="140.24" fill="#fff" stroke="#000" stroke-width="1.35"/>
<line x1="375.10" y1="450.16" x2="375.10" y2="441.41" stroke="#000" stroke-width="0.8" />
<line x1="373.40" y1="441.41" x2="376.80" y2="441.41" stroke="#000" stroke-width="0.8" />
<rect x="378.90" y="449.11" width="6.00" height="141.49" fill="#000"/>
<line x1="382.10" y1="449.11" x2="382.10" y2="442.98" stroke="#000" stroke-width="0.8" />
<line x1="380.40" y1="442.98" x2="383.80" y2="442.98" stroke="#000" stroke-width="0.8" />
<line x1="378.30" y1="608.00" x2="378.30" y2="612.00" stroke="#000" stroke-width="1.0" />
<text x="380.70" y="613.30" font-size="6.8" text-anchor="end" fill="#000" font-weight="700" transform="rotate(-90 380.70 613.30)" >130607</text>
<rect x="390.50" y="451.40" width="5.10" height="139.20" fill="#fff" stroke="#000" stroke-width="1.35"/>
<line x1="393.10" y1="451.20" x2="393.10" y2="448.41" stroke="#000" stroke-width="0.8" />
<line x1="391.40" y1="448.41" x2="394.80" y2="448.41" stroke="#000" stroke-width="0.8" />
<rect x="396.90" y="445.26" width="6.00" height="145.34" fill="#000"/>
<line x1="400.10" y1="445.26" x2="400.10" y2="444.21" stroke="#000" stroke-width="0.8" />
<line x1="398.40" y1="444.21" x2="401.80" y2="444.21" stroke="#000" stroke-width="0.8" />
<line x1="396.30" y1="608.00" x2="396.30" y2="612.00" stroke="#000" stroke-width="1.0" />
<text x="398.70" y="613.30" font-size="6.8" text-anchor="end" fill="#000" font-weight="700" transform="rotate(-90 398.70 613.30)" >130696</text>
<line x1="27.20" y1="415.30" x2="27.20" y2="608.70" stroke="#000" stroke-width="1.6" />
<line x1="26.80" y1="590.60" x2="406.00" y2="590.60" stroke="#000" stroke-width="1.3" />
<line x1="26.80" y1="608.00" x2="406.00" y2="608.00" stroke="#000" stroke-width="1.5" />
<line x1="27.20" y1="573.11" x2="410.00" y2="573.11" stroke="#000" stroke-width="1.3" stroke-dasharray="5.8 1.9"/>
<line x1="23.00" y1="573.11" x2="27.20" y2="573.11" stroke="#000" stroke-width="1.1" />
<text x="22.80" y="575.21" font-size="6.1" text-anchor="end" fill="#000" font-weight="700" >10</text>
<line x1="23.00" y1="555.62" x2="27.20" y2="555.62" stroke="#000" stroke-width="1.1" />
<text x="22.80" y="557.72" font-size="6.1" text-anchor="end" fill="#000" font-weight="700" >20</text>
<line x1="23.00" y1="538.13" x2="27.20" y2="538.13" stroke="#000" stroke-width="1.1" />
<text x="22.80" y="540.23" font-size="6.1" text-anchor="end" fill="#000" font-weight="700" >30</text>
<line x1="23.00" y1="520.64" x2="27.20" y2="520.64" stroke="#000" stroke-width="1.1" />
<text x="22.80" y="522.74" font-size="6.1" text-anchor="end" fill="#000" font-weight="700" >40</text>
<line x1="23.00" y1="503.15" x2="27.20" y2="503.15" stroke="#000" stroke-width="1.1" />
<text x="22.80" y="505.25" font-size="6.1" text-anchor="end" fill="#000" font-weight="700" >50</text>
<line x1="23.00" y1="485.66" x2="27.20" y2="485.66" stroke="#000" stroke-width="1.1" />
<text x="22.80" y="487.76" font-size="6.1" text-anchor="end" fill="#000" font-weight="700" >60</text>
<line x1="23.00" y1="468.17" x2="27.20" y2="468.17" stroke="#000" stroke-width="1.1" />
<text x="22.80" y="470.27" font-size="6.1" text-anchor="end" fill="#000" font-weight="700" >70</text>
<line x1="23.00" y1="450.68" x2="27.20" y2="450.68" stroke="#000" stroke-width="1.1" />
<text x="22.80" y="452.78" font-size="6.1" text-anchor="end" fill="#000" font-weight="700" >80</text>
<line x1="23.00" y1="433.19" x2="27.20" y2="433.19" stroke="#000" stroke-width="1.1" />
<text x="22.80" y="435.29" font-size="6.1" text-anchor="end" fill="#000" font-weight="700" >90</text>
<line x1="23.00" y1="415.70" x2="27.20" y2="415.70" stroke="#000" stroke-width="1.1" />
<text x="22.80" y="417.80" font-size="6.1" text-anchor="end" fill="#000" font-weight="700" >100</text>
<rect x="33.30" y="420.80" width="9.00" height="9.20" fill="#fff" stroke="#000" stroke-width="1.3"/>
<rect x="32.60" y="430.60" width="10.40" height="9.40" fill="#000"/>
<text x="47.70" y="429.10" font-size="10.4" text-anchor="start" fill="#000" font-weight="700" textLength="71.5" lengthAdjust="spacingAndGlyphs" >IFNγ Untreated</text>
<text x="47.70" y="439.20" font-size="10.4" text-anchor="start" fill="#000" font-weight="700" textLength="61" lengthAdjust="spacingAndGlyphs" >IFNγ Treated</text>
<text x="11.50" y="512.40" font-size="11.4" text-anchor="middle" fill="#000" font-weight="700" transform="rotate(-90 11.50 512.40)" textLength="86.3" lengthAdjust="spacingAndGlyphs" >% Specific killing</text>
<line x1="83.70" y1="559.30" x2="96.80" y2="559.30" stroke="#000" stroke-width="1.5" />
<text x="90.20" y="559.10" font-size="7.1" text-anchor="middle" fill="#000" font-weight="700" >**</text>
<line x1="101.70" y1="554.50" x2="114.80" y2="554.50" stroke="#000" stroke-width="1.5" />
<text x="108.20" y="554.30" font-size="7.1" text-anchor="middle" fill="#000" font-weight="700" >**</text>
<line x1="119.70" y1="527.00" x2="132.80" y2="527.00" stroke="#000" stroke-width="1.5" />
<text x="126.20" y="526.80" font-size="7.1" text-anchor="middle" fill="#000" font-weight="700" >*</text>
<line x1="137.70" y1="517.50" x2="150.80" y2="517.50" stroke="#000" stroke-width="1.5" />
<text x="144.20" y="517.30" font-size="7.1" text-anchor="middle" fill="#000" font-weight="700" >****</text>
<line x1="173.70" y1="524.00" x2="186.80" y2="524.00" stroke="#000" stroke-width="1.5" />
<text x="180.20" y="523.80" font-size="7.1" text-anchor="middle" fill="#000" font-weight="700" >**</text>
<line x1="245.70" y1="472.50" x2="258.80" y2="472.50" stroke="#000" stroke-width="1.5" />
<text x="252.20" y="472.30" font-size="7.1" text-anchor="middle" fill="#000" font-weight="700" >*</text>
<line x1="263.70" y1="460.00" x2="276.80" y2="460.00" stroke="#000" stroke-width="1.5" />
<text x="270.20" y="459.80" font-size="7.1" text-anchor="middle" fill="#000" font-weight="700" >**</text>
<line x1="299.70" y1="462.50" x2="312.80" y2="462.50" stroke="#000" stroke-width="1.5" />
<text x="306.20" y="462.30" font-size="7.1" text-anchor="middle" fill="#000" font-weight="700" >*</text>
<line x1="317.70" y1="452.50" x2="330.80" y2="452.50" stroke="#000" stroke-width="1.5" />
<text x="324.20" y="452.30" font-size="7.1" text-anchor="middle" fill="#000" font-weight="700" >**</text>
<line x1="335.70" y1="440.00" x2="348.80" y2="440.00" stroke="#000" stroke-width="1.5" />
<text x="342.20" y="439.80" font-size="7.1" text-anchor="middle" fill="#000" font-weight="700" >*</text>
<text x="3.30" y="661.80" font-size="17.6" text-anchor="start" fill="#000" font-weight="700" >F</text>
<line x1="44.60" y1="813.30" x2="44.60" y2="817.80" stroke="#000" stroke-width="1.1" />
<text x="48.50" y="819.30" font-size="10.9" text-anchor="end" fill="#000" font-weight="700" transform="rotate(-90 48.50 819.30)" >PBMC</text>
<line x1="63.09" y1="813.30" x2="63.09" y2="817.80" stroke="#000" stroke-width="1.1" />
<text x="66.99" y="819.30" font-size="10.9" text-anchor="end" fill="#000" font-weight="700" transform="rotate(-90 66.99 819.30)" >080043</text>
<rect x="75.78" y="761.00" width="11.60" height="52.30" fill="#000"/>
<line x1="81.58" y1="761.00" x2="81.58" y2="759.50" stroke="#000" stroke-width="1.0" />
<line x1="78.33" y1="759.50" x2="84.83" y2="759.50" stroke="#000" stroke-width="1.0" />
<text x="81.08" y="755.50" font-size="8.8" text-anchor="middle" fill="#000" stroke="#000" stroke-width="0.3">ns</text>
<line x1="81.58" y1="813.30" x2="81.58" y2="817.80" stroke="#000" stroke-width="1.1" />
<text x="85.48" y="819.30" font-size="10.9" text-anchor="end" fill="#000" font-weight="700" transform="rotate(-90 85.48 819.30)" >090271</text>
<rect x="94.27" y="732.00" width="11.60" height="81.30" fill="#000"/>
<line x1="100.07" y1="732.00" x2="100.07" y2="729.50" stroke="#000" stroke-width="1.0" />
<line x1="96.82" y1="729.50" x2="103.32" y2="729.50" stroke="#000" stroke-width="1.0" />
<text x="100.07" y="726.10" font-size="8.5" text-anchor="middle" fill="#000" font-weight="700" >**</text>
<line x1="100.07" y1="813.30" x2="100.07" y2="817.80" stroke="#000" stroke-width="1.1" />
<text x="103.97" y="819.30" font-size="10.9" text-anchor="end" fill="#000" font-weight="700" transform="rotate(-90 103.97 819.30)" >130714</text>
<rect x="112.76" y="719.50" width="11.60" height="93.80" fill="#000"/>
<line x1="118.56" y1="719.50" x2="118.56" y2="716.30" stroke="#000" stroke-width="1.0" />
<line x1="115.31" y1="716.30" x2="121.81" y2="716.30" stroke="#000" stroke-width="1.0" />
<text x="118.56" y="716.40" font-size="8.5" text-anchor="middle" fill="#000" font-weight="700" >**</text>
<line x1="118.56" y1="813.30" x2="118.56" y2="817.80" stroke="#000" stroke-width="1.1" />
<text x="122.46" y="819.30" font-size="10.9" text-anchor="end" fill="#000" font-weight="700" transform="rotate(-90 122.46 819.30)" >090365</text>
<rect x="131.25" y="722.70" width="11.60" height="90.60" fill="#000"/>
<line x1="137.05" y1="722.70" x2="137.05" y2="719.00" stroke="#000" stroke-width="1.0" />
<line x1="133.80" y1="719.00" x2="140.30" y2="719.00" stroke="#000" stroke-width="1.0" />
<text x="137.05" y="718.10" font-size="8.5" text-anchor="middle" fill="#000" font-weight="700" >*</text>
<line x1="137.05" y1="813.30" x2="137.05" y2="817.80" stroke="#000" stroke-width="1.1" />
<text x="140.95" y="819.30" font-size="10.9" text-anchor="end" fill="#000" font-weight="700" transform="rotate(-90 140.95 819.30)" >130794</text>
<rect x="149.74" y="721.60" width="11.60" height="91.70" fill="#000"/>
<line x1="155.54" y1="721.60" x2="155.54" y2="720.40" stroke="#000" stroke-width="1.0" />
<line x1="152.29" y1="720.40" x2="158.79" y2="720.40" stroke="#000" stroke-width="1.0" />
<text x="155.54" y="719.60" font-size="8.5" text-anchor="middle" fill="#000" font-weight="700" >****</text>
<line x1="155.54" y1="813.30" x2="155.54" y2="817.80" stroke="#000" stroke-width="1.1" />
<text x="159.44" y="819.30" font-size="10.9" text-anchor="end" fill="#000" font-weight="700" transform="rotate(-90 159.44 819.30)" >100857</text>
<rect x="168.23" y="759.00" width="11.60" height="54.30" fill="#000"/>
<line x1="174.03" y1="759.00" x2="174.03" y2="756.00" stroke="#000" stroke-width="1.0" />
<line x1="170.78" y1="756.00" x2="177.28" y2="756.00" stroke="#000" stroke-width="1.0" />
<line x1="174.03" y1="813.30" x2="174.03" y2="817.80" stroke="#000" stroke-width="1.1" />
<text x="177.93" y="819.30" font-size="10.9" text-anchor="end" fill="#000" font-weight="700" transform="rotate(-90 177.93 819.30)" >130624</text>
<rect x="186.72" y="749.00" width="11.60" height="64.30" fill="#000"/>
<line x1="192.52" y1="749.00" x2="192.52" y2="746.50" stroke="#000" stroke-width="1.0" />
<line x1="189.27" y1="746.50" x2="195.77" y2="746.50" stroke="#000" stroke-width="1.0" />
<text x="192.52" y="743.60" font-size="8.5" text-anchor="middle" fill="#000" font-weight="700" >**</text>
<line x1="192.52" y1="813.30" x2="192.52" y2="817.80" stroke="#000" stroke-width="1.1" />
<text x="196.42" y="819.30" font-size="10.9" text-anchor="end" fill="#000" font-weight="700" transform="rotate(-90 196.42 819.30)" >140118</text>
<rect x="205.21" y="754.00" width="11.60" height="59.30" fill="#000"/>
<line x1="211.01" y1="754.00" x2="211.01" y2="750.00" stroke="#000" stroke-width="1.0" />
<line x1="207.76" y1="750.00" x2="214.26" y2="750.00" stroke="#000" stroke-width="1.0" />
<line x1="211.01" y1="813.30" x2="211.01" y2="817.80" stroke="#000" stroke-width="1.1" />
<text x="214.91" y="819.30" font-size="10.9" text-anchor="end" fill="#000" font-weight="700" transform="rotate(-90 214.91 819.30)" >140372</text>
<rect x="223.70" y="770.00" width="11.60" height="43.30" fill="#000"/>
<line x1="229.50" y1="770.00" x2="229.50" y2="769.50" stroke="#000" stroke-width="1.0" />
<line x1="226.25" y1="769.50" x2="232.75" y2="769.50" stroke="#000" stroke-width="1.0" />
<line x1="229.50" y1="813.30" x2="229.50" y2="817.80" stroke="#000" stroke-width="1.1" />
<text x="233.40" y="819.30" font-size="10.9" text-anchor="end" fill="#000" font-weight="700" transform="rotate(-90 233.40 819.30)" >130578</text>
<rect x="242.19" y="774.00" width="11.60" height="39.30" fill="#000"/>
<line x1="247.99" y1="774.00" x2="247.99" y2="771.00" stroke="#000" stroke-width="1.0" />
<line x1="244.74" y1="771.00" x2="251.24" y2="771.00" stroke="#000" stroke-width="1.0" />
<text x="247.99" y="768.60" font-size="8.5" text-anchor="middle" fill="#000" font-weight="700" >*</text>
<line x1="247.99" y1="813.30" x2="247.99" y2="817.80" stroke="#000" stroke-width="1.1" />
<text x="251.89" y="819.30" font-size="10.9" text-anchor="end" fill="#000" font-weight="700" transform="rotate(-90 251.89 819.30)" >130752</text>
<rect x="260.68" y="766.00" width="11.60" height="47.30" fill="#000"/>
<line x1="266.48" y1="766.00" x2="266.48" y2="762.50" stroke="#000" stroke-width="1.0" />
<line x1="263.23" y1="762.50" x2="269.73" y2="762.50" stroke="#000" stroke-width="1.0" />
<text x="266.48" y="762.10" font-size="8.5" text-anchor="middle" fill="#000" font-weight="700" >**</text>
<line x1="266.48" y1="813.30" x2="266.48" y2="817.80" stroke="#000" stroke-width="1.1" />
<text x="270.38" y="819.30" font-size="10.9" text-anchor="end" fill="#000" font-weight="700" transform="rotate(-90 270.38 819.30)" >140556</text>
<line x1="284.97" y1="813.30" x2="284.97" y2="817.80" stroke="#000" stroke-width="1.1" />
<text x="288.87" y="819.30" font-size="10.9" text-anchor="end" fill="#000" font-weight="700" transform="rotate(-90 288.87 819.30)" >140176</text>
<rect x="297.66" y="785.00" width="11.60" height="28.30" fill="#000"/>
<line x1="303.46" y1="785.00" x2="303.46" y2="782.50" stroke="#000" stroke-width="1.0" />
<line x1="300.21" y1="782.50" x2="306.71" y2="782.50" stroke="#000" stroke-width="1.0" />
<text x="303.46" y="781.10" font-size="8.5" text-anchor="middle" fill="#000" font-weight="700" >*</text>
<line x1="303.46" y1="813.30" x2="303.46" y2="817.80" stroke="#000" stroke-width="1.1" />
<text x="307.36" y="819.30" font-size="10.9" text-anchor="end" fill="#000" font-weight="700" transform="rotate(-90 307.36 819.30)" >110164</text>
<rect x="316.15" y="781.50" width="11.60" height="31.80" fill="#000"/>
<line x1="321.95" y1="781.50" x2="321.95" y2="778.50" stroke="#000" stroke-width="1.0" />
<line x1="318.70" y1="778.50" x2="325.20" y2="778.50" stroke="#000" stroke-width="1.0" />
<text x="321.95" y="777.60" font-size="8.5" text-anchor="middle" fill="#000" font-weight="700" >**</text>
<line x1="321.95" y1="813.30" x2="321.95" y2="817.80" stroke="#000" stroke-width="1.1" />
<text x="325.85" y="819.30" font-size="10.9" text-anchor="end" fill="#000" font-weight="700" transform="rotate(-90 325.85 819.30)" >150279</text>
<rect x="334.64" y="773.50" width="11.60" height="39.80" fill="#000"/>
<line x1="340.44" y1="773.50" x2="340.44" y2="771.00" stroke="#000" stroke-width="1.0" />
<line x1="337.19" y1="771.00" x2="343.69" y2="771.00" stroke="#000" stroke-width="1.0" />
<text x="340.44" y="769.60" font-size="8.5" text-anchor="middle" fill="#000" font-weight="700" >*</text>
<line x1="340.44" y1="813.30" x2="340.44" y2="817.80" stroke="#000" stroke-width="1.1" />
<text x="344.34" y="819.30" font-size="10.9" text-anchor="end" fill="#000" font-weight="700" transform="rotate(-90 344.34 819.30)" >150549</text>
<line x1="358.93" y1="813.30" x2="358.93" y2="817.80" stroke="#000" stroke-width="1.1" />
<text x="362.83" y="819.30" font-size="10.9" text-anchor="end" fill="#000" font-weight="700" transform="rotate(-90 362.83 819.30)" >130607</text>
<line x1="377.42" y1="813.30" x2="377.42" y2="817.80" stroke="#000" stroke-width="1.1" />
<text x="381.32" y="819.30" font-size="10.9" text-anchor="end" fill="#000" font-weight="700" transform="rotate(-90 381.32 819.30)" >130783</text>
<rect x="390.11" y="792.50" width="11.60" height="20.80" fill="#000"/>
<line x1="395.91" y1="792.50" x2="395.91" y2="788.50" stroke="#000" stroke-width="1.0" />
<line x1="392.66" y1="788.50" x2="399.16" y2="788.50" stroke="#000" stroke-width="1.0" />
<line x1="395.91" y1="813.30" x2="395.91" y2="817.80" stroke="#000" stroke-width="1.1" />
<text x="399.81" y="819.30" font-size="10.9" text-anchor="end" fill="#000" font-weight="700" transform="rotate(-90 399.81 819.30)" >130696</text>
<line x1="34.40" y1="702.40" x2="34.40" y2="814.20" stroke="#000" stroke-width="1.9" />
<line x1="33.50" y1="813.30" x2="406.00" y2="813.30" stroke="#000" stroke-width="1.8" />
<line x1="29.90" y1="813.30" x2="34.40" y2="813.30" stroke="#000" stroke-width="1.3" />
<text x="29.50" y="815.90" font-size="7.4" text-anchor="end" fill="#000" font-weight="700" stroke="#000" stroke-width="0.2">1</text>
<line x1="31.40" y1="802.22" x2="34.40" y2="802.22" stroke="#000" stroke-width="1.0" />
<line x1="31.40" y1="795.74" x2="34.40" y2="795.74" stroke="#000" stroke-width="1.0" />
<line x1="31.40" y1="791.14" x2="34.40" y2="791.14" stroke="#000" stroke-width="1.0" />
<line x1="31.40" y1="787.58" x2="34.40" y2="787.58" stroke="#000" stroke-width="1.0" />
<line x1="31.40" y1="784.66" x2="34.40" y2="784.66" stroke="#000" stroke-width="1.0" />
<line x1="31.40" y1="782.20" x2="34.40" y2="782.20" stroke="#000" stroke-width="1.0" />
<line x1="31.40" y1="780.07" x2="34.40" y2="780.07" stroke="#000" stroke-width="1.0" />
<line x1="31.40" y1="778.18" x2="34.40" y2="778.18" stroke="#000" stroke-width="1.0" />
<line x1="29.90" y1="776.50" x2="34.40" y2="776.50" stroke="#000" stroke-width="1.3" />
<text x="29.50" y="779.10" font-size="7.4" text-anchor="end" fill="#000" font-weight="700" stroke="#000" stroke-width="0.2">10</text>
<line x1="31.40" y1="765.42" x2="34.40" y2="765.42" stroke="#000" stroke-width="1.0" />
<line x1="31.40" y1="758.94" x2="34.40" y2="758.94" stroke="#000" stroke-width="1.0" />
<line x1="31.40" y1="754.34" x2="34.40" y2="754.34" stroke="#000" stroke-width="1.0" />
<line x1="31.40" y1="750.78" x2="34.40" y2="750.78" stroke="#000" stroke-width="1.0" />
<line x1="31.40" y1="747.86" x2="34.40" y2="747.86" stroke="#000" stroke-width="1.0" />
<line x1="31.40" y1="745.40" x2="34.40" y2="745.40" stroke="#000" stroke-width="1.0" />
<line x1="31.40" y1="743.27" x2="34.40" y2="743.27" stroke="#000" stroke-width="1.0" />
<line x1="31.40" y1="741.38" x2="34.40" y2="741.38" stroke="#000" stroke-width="1.0" />
<line x1="29.90" y1="739.70" x2="34.40" y2="739.70" stroke="#000" stroke-width="1.3" />
<text x="29.50" y="742.30" font-size="7.4" text-anchor="end" fill="#000" font-weight="700" stroke="#000" stroke-width="0.2">100</text>
<line x1="31.40" y1="728.62" x2="34.40" y2="728.62" stroke="#000" stroke-width="1.0" />
<line x1="31.40" y1="722.14" x2="34.40" y2="722.14" stroke="#000" stroke-width="1.0" />
<line x1="31.40" y1="717.54" x2="34.40" y2="717.54" stroke="#000" stroke-width="1.0" />
<line x1="31.40" y1="713.98" x2="34.40" y2="713.98" stroke="#000" stroke-width="1.0" />
<line x1="31.40" y1="711.06" x2="34.40" y2="711.06" stroke="#000" stroke-width="1.0" />
<line x1="31.40" y1="708.60" x2="34.40" y2="708.60" stroke="#000" stroke-width="1.0" />
<line x1="31.40" y1="706.47" x2="34.40" y2="706.47" stroke="#000" stroke-width="1.0" />
<line x1="31.40" y1="704.58" x2="34.40" y2="704.58" stroke="#000" stroke-width="1.0" />
<line x1="29.90" y1="702.90" x2="34.40" y2="702.90" stroke="#000" stroke-width="1.3" />
<text x="29.50" y="705.50" font-size="7.4" text-anchor="end" fill="#000" font-weight="700" stroke="#000" stroke-width="0.2">1,000</text>
<text x="9.50" y="762.00" font-size="12" text-anchor="middle" fill="#000" font-weight="700" transform="rotate(-90 9.50 762.00)" textLength="111" lengthAdjust="spacingAndGlyphs" >% Increase in killing</text>
<line x1="61.30" y1="704.80" x2="157.50" y2="704.80" stroke="#000" stroke-width="1.5" />
<text x="102.00" y="700.00" font-size="10.8" text-anchor="middle" fill="#111" textLength="66" lengthAdjust="spacingAndGlyphs" stroke="#111" stroke-width="0.2">189.1 ± 35.58</text>
<line x1="170.00" y1="725.80" x2="405.00" y2="725.80" stroke="#000" stroke-width="1.5" />
<text x="281.50" y="722.50" font-size="10.8" text-anchor="middle" fill="#111" textLength="66" lengthAdjust="spacingAndGlyphs" stroke="#111" stroke-width="0.2">17.33 ± 3.023</text>
<path d="M103.8,685 V663.8 H281 V705.3" fill="none" stroke="#000" stroke-width="1.6" />
<text x="192.50" y="660.20" font-size="8.8" text-anchor="middle" fill="#000" font-weight="700" >****</text>
<line x1="60.00" y1="861.00" x2="157.50" y2="861.00" stroke="#000" stroke-width="1.6" />
<line x1="170.00" y1="861.00" x2="398.30" y2="861.00" stroke="#000" stroke-width="1.6" />
<text x="107.50" y="876.00" font-size="12.2" text-anchor="middle" fill="#000" font-weight="700" textLength="80" lengthAdjust="spacingAndGlyphs" >DNT-resistant</text>
<text x="287.50" y="876.00" font-size="12.2" text-anchor="middle" fill="#000" font-weight="700" textLength="95" lengthAdjust="spacingAndGlyphs" >DNT-susceptible</text>
<line x1="60.00" y1="891.30" x2="392.00" y2="891.30" stroke="#000" stroke-width="1.7" />
<path d="M398,891.3 L390.5,888 L390.5,894.6 Z" fill="#000" stroke="none" stroke-width="1" />
<text x="231.00" y="905.00" font-size="12" text-anchor="middle" fill="#000" font-weight="700" textLength="258" lengthAdjust="spacingAndGlyphs" >Increase in sensitivity to DNT-mediated killing</text>
</svg>
</body></html>
